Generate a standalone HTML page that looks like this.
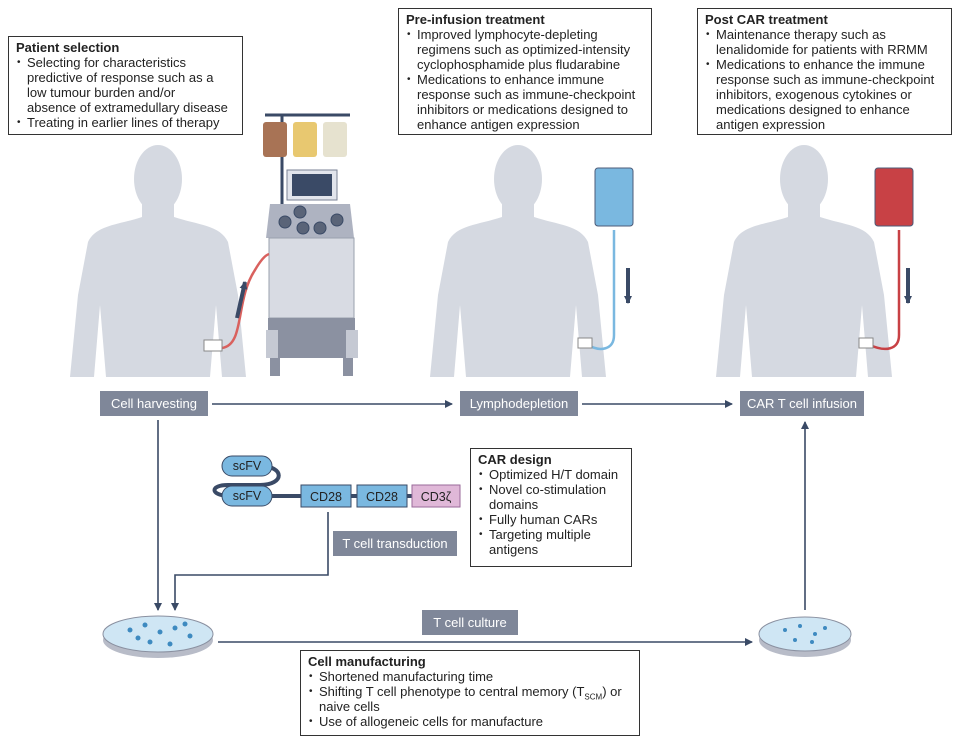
<!DOCTYPE html>
<html><head><meta charset="utf-8"><style>
body{margin:0;background:#fff;width:966px;height:744px;overflow:hidden;position:relative;font-family:"Liberation Sans",sans-serif;color:#222}
.box{position:absolute;border:1.3px solid #333;background:#fff;font-size:13px;line-height:15px;padding:3px 7px;box-sizing:border-box}
.box b{display:block}
.box ul{margin:0;padding:0 0 0 11px;list-style:none}
.box li{position:relative}
.box li:before{content:"•";position:absolute;left:-10px;font-size:10px}
.lab{position:absolute;background:#7f8799;color:#fff;font-size:13px;line-height:25px;text-align:center}
sub{line-height:0;font-size:8px}
</style></head><body>
<svg width="966" height="744" style="position:absolute;left:0;top:0">
<defs>
<g id="p"><ellipse cx="0" cy="34" rx="24" ry="34" fill="#d5d9e1"/>
<path d="M-16,58 L-16,72 C-40,80 -62,80 -70,97 L-80,150 L-88,232 L-64,232 L-58,160 L-52,232 L52,232 L58,160 L64,232 L88,232 L80,150 L70,97 C62,80 40,80 16,72 L16,58 Z" fill="#d5d9e1"/></g>
<marker id="a" markerWidth="8" markerHeight="8" refX="7" refY="4" orient="auto" markerUnits="userSpaceOnUse"><path d="M0,0 L8,4 L0,8 Z" fill="#3a4a66"/></marker>
</defs>
<use href="#p" x="158" y="145"/>
<use href="#p" x="518" y="145"/>
<use href="#p" x="804" y="145"/>
<line x1="265" y1="115" x2="350" y2="115" stroke="#3a4a66" stroke-width="3"/>
<line x1="282" y1="115" x2="282" y2="205" stroke="#3a4a66" stroke-width="3"/>
<rect x="263" y="122" width="24" height="35" rx="3" fill="#a87355"/>
<rect x="293" y="122" width="24" height="35" rx="3" fill="#e8c870"/>
<rect x="323" y="122" width="24" height="35" rx="3" fill="#e6e2cf"/>
<rect x="287" y="170" width="50" height="30" fill="#e2e5ec" stroke="#7a8294"/>
<rect x="292" y="174" width="40" height="22" fill="#3a4a66"/>
<path d="M270,204 L350,204 L354,238 L266,238 Z" fill="#aeb3c1"/>
<rect x="269" y="238" width="85" height="80" fill="#d8dbe3" stroke="#9aa0ae"/>
<rect x="268" y="318" width="87" height="40" fill="#8b91a1"/>
<rect x="266" y="330" width="12" height="28" fill="#c5c9d3"/><rect x="346" y="330" width="12" height="28" fill="#c5c9d3"/>
<rect x="270" y="358" width="10" height="18" fill="#8b91a1"/><rect x="343" y="358" width="10" height="18" fill="#8b91a1"/>
<g fill="#5a6478" stroke="#3a4a66"><circle cx="300" cy="212" r="6"/><circle cx="285" cy="222" r="6"/><circle cx="303" cy="228" r="6"/><circle cx="320" cy="228" r="6"/><circle cx="337" cy="220" r="6"/></g>
<path d="M222,348 C245,345 235,300 255,270 C262,258 266,255 269,254" fill="none" stroke="#d9615e" stroke-width="2.5"/>
<rect x="204" y="340" width="18" height="11" fill="#fff" stroke="#888"/>
<line x1="237" y1="318" x2="245" y2="282" stroke="#3a4a66" stroke-width="4" marker-end="url(#a)"/>
<rect x="595" y="168" width="38" height="58" rx="3" fill="#7ab8e0" stroke="#4d5b78"/>
<path d="M614,230 L614,335 C614,350 600,352 588,345" fill="none" stroke="#7ab8e0" stroke-width="2.5"/>
<rect x="578" y="338" width="14" height="10" fill="#fff" stroke="#888"/>
<line x1="628" y1="268" x2="628" y2="303" stroke="#3a4a66" stroke-width="4" marker-end="url(#a)"/>
<rect x="875" y="168" width="38" height="58" rx="3" fill="#c84145" stroke="#4d5b78"/>
<path d="M899,230 L899,335 C899,350 885,352 870,345" fill="none" stroke="#c84145" stroke-width="2.5"/>
<rect x="859" y="338" width="14" height="10" fill="#fff" stroke="#888"/>
<line x1="908" y1="268" x2="908" y2="303" stroke="#3a4a66" stroke-width="4" marker-end="url(#a)"/>
<g stroke="#3a4a66" stroke-width="1.6" fill="none">
<line x1="212" y1="404" x2="452" y2="404" marker-end="url(#a)"/>
<line x1="582" y1="404" x2="732" y2="404" marker-end="url(#a)"/>
<line x1="158" y1="420" x2="158" y2="610" marker-end="url(#a)"/>
<path d="M328,512 L328,575 L175,575 L175,610" marker-end="url(#a)"/>
<line x1="218" y1="642" x2="752" y2="642" marker-end="url(#a)"/>
<line x1="805" y1="610" x2="805" y2="422" marker-end="url(#a)"/>
</g>
<path d="M260,466 C285,466 285,485 260,485 L228,485 C210,485 210,495 228,496" fill="none" stroke="#3a4a66" stroke-width="4"/>
<line x1="270" y1="496" x2="420" y2="496" stroke="#3a4a66" stroke-width="4"/>
<g font-size="12.5" text-anchor="middle" fill="#222">
<rect x="222" y="456" width="50" height="20" rx="10" fill="#7ab8e0" stroke="#3a4a66"/><text x="247" y="470">scFV</text>
<rect x="222" y="486" width="50" height="20" rx="10" fill="#7ab8e0" stroke="#3a4a66"/><text x="247" y="500">scFV</text>
<rect x="301" y="485" width="50" height="22" fill="#7ab8e0" stroke="#3a4a66"/><text x="326" y="501">CD28</text>
<rect x="357" y="485" width="50" height="22" fill="#7ab8e0" stroke="#3a4a66"/><text x="382" y="501">CD28</text>
<rect x="412" y="485" width="48" height="22" fill="#e0b8d8" stroke="#9a6a9a"/><text x="436" y="501">CD3ζ</text>
</g>
<g>
<ellipse cx="158" cy="640" rx="55" ry="18" fill="#b8bcc8"/><ellipse cx="158" cy="634" rx="55" ry="18" fill="#cfe6f4" stroke="#8a90a0"/>
<ellipse cx="805" cy="640" rx="46" ry="17" fill="#b8bcc8"/><ellipse cx="805" cy="634" rx="46" ry="17" fill="#cfe6f4" stroke="#8a90a0"/>
<g fill="#3e8ac0"><circle cx="130" cy="630" r="2.5"/><circle cx="145" cy="625" r="2.5"/><circle cx="160" cy="632" r="2.5"/><circle cx="175" cy="628" r="2.5"/><circle cx="190" cy="636" r="2.5"/><circle cx="150" cy="642" r="2.5"/><circle cx="170" cy="644" r="2.5"/><circle cx="138" cy="638" r="2.5"/><circle cx="185" cy="624" r="2.5"/>
<circle cx="785" cy="630" r="2"/><circle cx="800" cy="626" r="2"/><circle cx="815" cy="634" r="2"/><circle cx="825" cy="628" r="2"/><circle cx="795" cy="640" r="2"/><circle cx="812" cy="642" r="2"/></g>
</g>
</svg>
<div class="lab" style="left:100px;top:391px;width:108px">Cell harvesting</div>
<div class="lab" style="left:460px;top:391px;width:118px">Lymphodepletion</div>
<div class="lab" style="left:740px;top:391px;width:124px">CAR T cell infusion</div>
<div class="lab" style="left:333px;top:531px;width:124px">T cell transduction</div>
<div class="lab" style="left:422px;top:610px;width:96px">T cell culture</div>
<div class="box" style="left:8px;top:36px;width:235px;height:99px"><b>Patient selection</b><ul><li>Selecting for characteristics<br>predictive of response such as a<br>low tumour burden and/or<br>absence of extramedullary disease</li><li>Treating in earlier lines of therapy</li></ul></div>
<div class="box" style="left:398px;top:8px;width:254px;height:127px"><b>Pre-infusion treatment</b><ul><li>Improved lymphocyte-depleting<br>regimens such as optimized-intensity<br>cyclophosphamide plus fludarabine</li><li>Medications to enhance immune<br>response such as immune-checkpoint<br>inhibitors or medications designed to<br>enhance antigen expression</li></ul></div>
<div class="box" style="left:697px;top:8px;width:255px;height:127px"><b>Post CAR treatment</b><ul><li>Maintenance therapy such as<br>lenalidomide for patients with RRMM</li><li>Medications to enhance the immune<br>response such as immune-checkpoint<br>inhibitors, exogenous cytokines or<br>medications designed to enhance<br>antigen expression</li></ul></div>
<div class="box" style="left:470px;top:448px;width:162px;height:119px"><b>CAR design</b><ul><li>Optimized H/T domain</li><li>Novel co-stimulation<br>domains</li><li>Fully human CARs</li><li>Targeting multiple<br>antigens</li></ul></div>
<div class="box" style="left:300px;top:650px;width:340px;height:86px"><b>Cell manufacturing</b><ul><li>Shortened manufacturing time</li><li>Shifting T cell phenotype to central memory (T<sub>SCM</sub>) or<br>naive cells</li><li>Use of allogeneic cells for manufacture</li></ul></div>
</body></html>
